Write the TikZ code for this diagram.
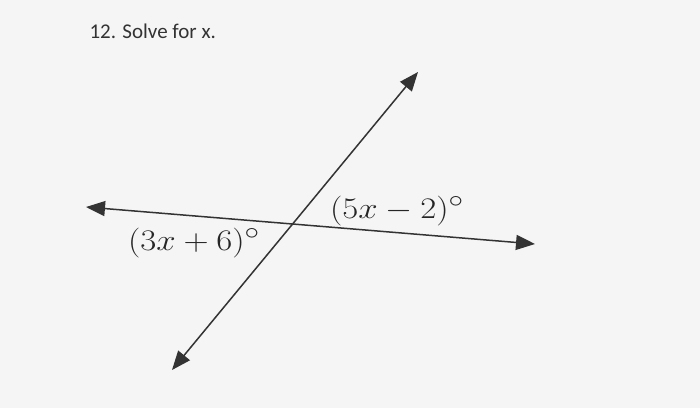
\documentclass[tikz,border=0pt]{standalone}
\usepackage{fontspec}
\setmainfont{Carlito}
\usetikzlibrary{arrows.meta}

\begin{document}
\begin{tikzpicture}[x=1pt,y=-1pt,
	ray/.style={line width=1.5pt,draw=black!80,-{Triangle[length=19pt,width=15pt]}},
	anglabel/.style={font=\Huge,xscale=1.4,yscale=1.2,text=black!85}]
	\fill[black!4] (0,0) rectangle (700,408);
	\useasboundingbox (0,0) rectangle (700,408);
	\node[anchor=west,font=\fontsize{21}{24}\selectfont,text=black!80] (title) at (86,31) {12. Solve for x.};
	\coordinate (O) at (292.6,224);
	\coordinate (W) at (86,207);
	\coordinate (E) at (535,244);
	\coordinate (NE) at (418,72);
	\coordinate (SW) at (172,370);
	\draw[ray] (O) -- (W);
	\draw[ray] (O) -- (E);
	\draw[ray] (O) -- (NE);
	\draw[ray] (O) -- (SW);
	\node[anglabel] (top) at (397,211) {$(5x-2)^\circ$};
	\node[anglabel] (bot) at (194,243) {$(3x+6)^\circ$};
\end{tikzpicture}
\end{document}
